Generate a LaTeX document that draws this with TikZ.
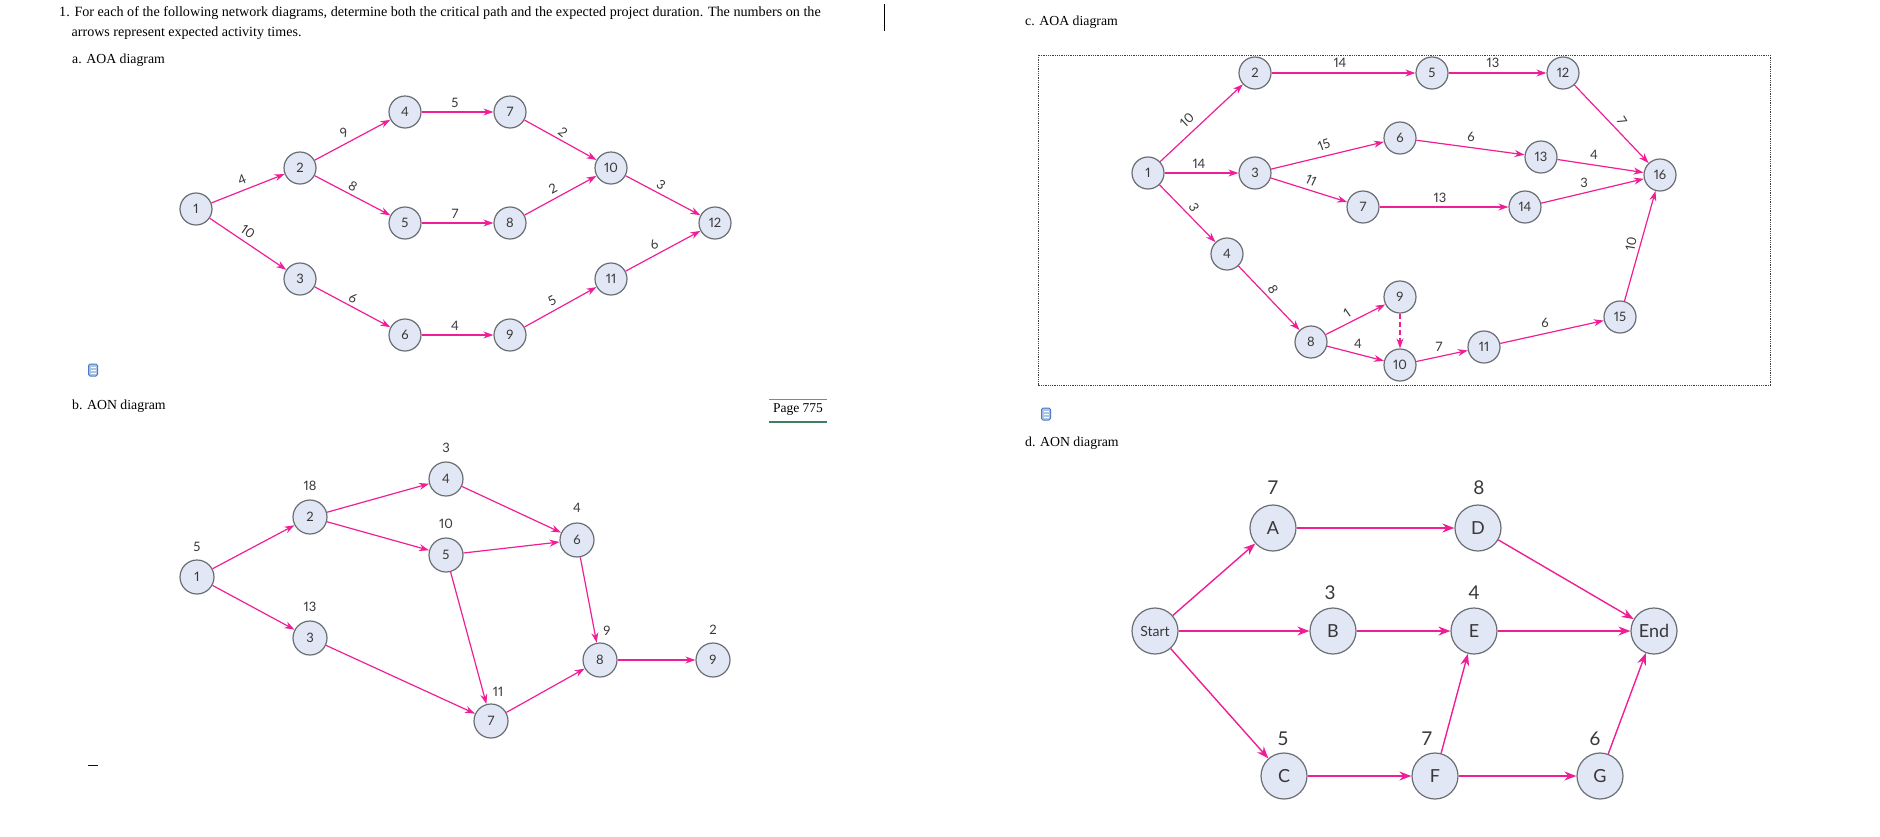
\documentclass[tikz,border=0pt]{standalone}
\usepackage{fontspec}
\setmainfont{Liberation Serif}
\newfontfamily\dgm[Numbers=Proportional]{Lato}
\usetikzlibrary{arrows.meta}
\definecolor{pnk}{HTML}{F01E96}
\definecolor{nfill}{HTML}{E1E7F4}
\definecolor{nline}{HTML}{6A6E74}
\definecolor{ink}{HTML}{383838}
\definecolor{icn}{HTML}{4A7CC4}
\definecolor{grn}{HTML}{3F7F62}
\tikzset{
 x=1pt,y=-1pt,
 head/.style={font=\fontsize{13.8}{15}\selectfont,anchor=west,inner sep=0pt,text=black},
 nda/.style={circle,draw=nline,fill=nfill,line width=1.2pt,minimum size=32pt,inner sep=0pt,text=ink,font=\dgm\fontsize{13}{13}\selectfont},
 ndb/.style={nda,minimum size=34pt},
 ndd/.style={nda,minimum size=46pt,font=\dgm\fontsize{18}{18}\selectfont},
 lab/.style={inner sep=0pt,text=ink,font=\dgm\fontsize{13}{13}\selectfont},
 labd/.style={inner sep=0pt,text=ink,font=\dgm\fontsize{19}{19}\selectfont},
 arr/.style={draw=pnk,line width=1.2pt,-{Stealth[length=10pt,width=7pt]},fill=none},
 arrd/.style={arr,line width=1.4pt,-{Stealth[length=12pt,width=9pt]}},
 icon/.style={draw=icn,fill=icn!45,rounded corners=1.5pt,line width=1pt,minimum width=9pt,minimum height=12pt,inner sep=0pt},
}
\begin{document}
\begin{tikzpicture}
\useasboundingbox (0,0) rectangle (1880,836);
% text
\node[head,font=\fontsize{14.15}{15}\selectfont] (t1) at (59,13) {1. For each of the following network diagrams, determine both the critical path and the expected project duration. The numbers on the};
\node[head,font=\fontsize{14.05}{15}\selectfont] (t2) at (71.5,33) {arrows represent expected activity times.};
\node[head] (ta) at (72,60) {a. AOA diagram};
\node[head] (tb) at (72,406) {b. AON diagram};
\node[head] (tc) at (1025,22) {c. AOA diagram};
\node[head] (td) at (1025,443) {d. AON diagram};
\node[inner sep=0pt,font=\fontsize{13.5}{14}\selectfont] (pg) at (798,410) {Page 775};
\coordinate (pgl1) at (769,399); \coordinate (pgr1) at (827,399);
\coordinate (pgl2) at (769,422); \coordinate (pgr2) at (827,422);
\draw[grn!80,line width=1pt] (pgl1) -- (pgr1);
\draw[grn,line width=1.2pt] (pgl2) -- (pgr2);
\coordinate (bar1) at (884,4); \coordinate (bar2) at (884,31);
\draw[black,line width=1pt] (bar1) -- (bar2);
\node[icon] (ic1) at (93,370) {};
\node[icon] (ic2) at (1046,414) {};
\foreach \n in {ic1,ic2}{
  \draw[white,line width=.7pt] ([xshift=-2.5pt,yshift=3pt]\n.center) -- ([xshift=2.5pt,yshift=3pt]\n.center);
  \draw[white,line width=.7pt] ([xshift=-2.5pt]\n.center) -- ([xshift=2.5pt]\n.center);
  \draw[white,line width=.7pt] ([xshift=-2.5pt,yshift=-3pt]\n.center) -- ([xshift=2.5pt,yshift=-3pt]\n.center);
}
\coordinate (dl) at (88,765); \coordinate (dr) at (98,765);
\draw[blue!60!black,line width=1pt] (dl) -- (dr);

% --- a
\foreach \n/\x/\y in {1/196/209,2/300/168,3/300/279,4/405/112,5/405/223,6/405/335,7/510/112,8/510/223,9/510/335,10/611/168,11/611/279,12/715/223}
  \node[nda] (a\n) at (\x,\y) {\n};
\foreach \s/\t in {1/2,1/3,2/4,2/5,3/6,4/7,5/8,6/9,7/10,8/10,9/11,10/12,11/12}
  \draw[arr] (a\s) -- (a\t);
\foreach \i/\v/\x/\y/\r in {1/4/242/180/22,2/10/248/232/-35,3/9/344/133/30,4/8/353/186/-30,5/6/353/298/-30,6/5/455/103/0,7/7/455/214/0,8/4/455/326/0,9/2/563/132/-40,10/2/553/189/28,11/5/552/301/28,12/3/661/185/-35,13/6/654/245/30}
  \node[lab,rotate=\r] (al\i) at (\x,\y) {\v};

% --- b
\foreach \n/\x/\y in {1/197/577,2/310/517,3/310/638,4/446/479,5/446/555,6/577/540,7/491/721,8/600/660,9/713/660}
  \node[ndb] (b\n) at (\x,\y) {\n};
\foreach \s/\t in {1/2,1/3,2/4,2/5,3/7,4/6,5/6,5/7,6/8,7/8,8/9}
  \draw[arr] (b\s) -- (b\t);
\foreach \i/\v/\x/\y in {1/5/197/547,2/18/310/486,3/13/310/607,4/3/446/448,5/10/446/524,6/4/577/508,7/9/607/631,8/2/713/630,9/11/498/692}
  \node[lab] (bl\i) at (\x,\y) {\v};

% --- c
\coordinate (f1) at (1038,55); \coordinate (f2) at (1770,385);
\draw[draw=black!75,line width=.8pt,densely dotted] (f1) rectangle (f2);
\foreach \n/\x/\y in {1/1148/173,2/1255/73,3/1255/173,4/1227/254,5/1432/73,6/1400/138,7/1363/207,8/1311/342,9/1400/297,10/1400/365,11/1484/347,12/1563/73,13/1541/157,14/1525/207,15/1620/317,16/1660/175}
  \node[nda] (c\n) at (\x,\y) {\n};
\foreach \s/\t in {1/2,1/3,1/4,2/5,5/12,12/16,3/6,6/13,13/16,3/7,7/14,14/16,4/8,8/9,8/10,10/11,11/15,15/16}
  \draw[arr] (c\s) -- (c\t);
\draw[arr,dash pattern=on 5pt off 3pt] (c9) -- (c10);
\foreach \i/\v/\x/\y/\r in {1/10/1187/120/43,2/14/1199/164/0,3/3/1194/207/-60,4/14/1340/63/0,5/13/1493/63/0,6/15/1324/145/20,7/6/1471/137/0,8/11/1311/180/-25,9/13/1440/198/0,10/4/1594/155/0,11/3/1584/183/0,12/7/1622/121/-58,13/8/1273/289/-60,14/1/1347/313/35,15/4/1358/344/0,16/7/1439/347/0,17/6/1545/323/0,18/10/1631/244/80}
  \node[lab,rotate=\r] (cl\i) at (\x,\y) {\v};

% --- d
\foreach \n/\t/\x/\y in {A/A/1273/528,B/B/1333/631,C/C/1284/776,D/D/1478/528,E/E/1474/631,F/F/1435/776,G/G/1600/776,N/End/1654/631}
  \node[ndd] (d\n) at (\x,\y) {\t};
\node[ndd,font=\dgm\fontsize{14}{14}\selectfont] (dS) at (1155,631) {Start};
\foreach \s/\t in {S/A,S/B,S/C,A/D,D/N,B/E,E/N,C/F,F/E,F/G,G/N}
  \draw[arrd] (d\s) -- (d\t);
\foreach \i/\v/\x/\y in {1/7/1273/488,2/8/1479/488,3/3/1330/593,4/4/1474/593,5/5/1283/739,6/7/1427/739,7/6/1595/739}
  \node[labd] (dl\i) at (\x,\y) {\v};
\end{tikzpicture}
\end{document}
